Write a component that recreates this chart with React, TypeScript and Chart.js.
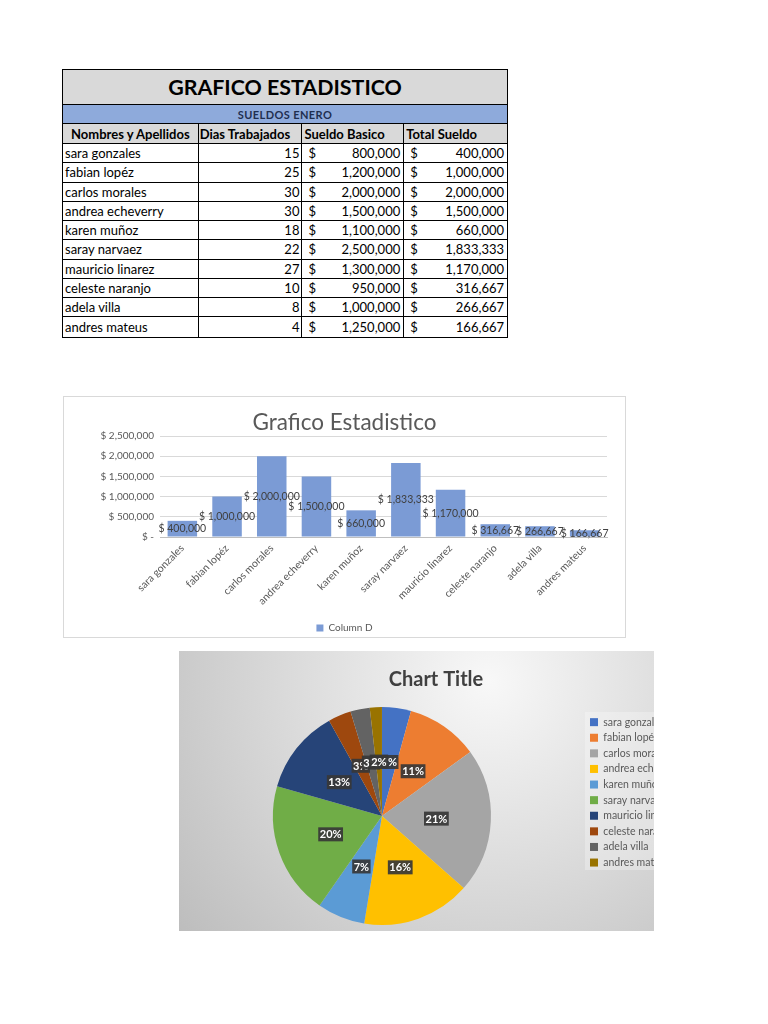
import React, { useEffect, useRef } from 'react';
import { Chart, registerables } from 'chart.js';

Chart.register(...registerables);

const FONT = 'Lato, "Open Sans", sans-serif';
Chart.defaults.font.family = FONT;

// ---------- data ----------
const tableTitle = 'GRAFICO ESTADISTICO';
const tableSubtitle = 'SUELDOS ENERO';
const headers = ['Nombres y Apellidos', 'Dias Trabajados', 'Sueldo Basico', 'Total Sueldo'];
const names = [
  'sara gonzales',
  'fabian lopéz',
  'carlos morales',
  'andrea echeverry',
  'karen muñoz',
  'saray narvaez',
  'mauricio linarez',
  'celeste naranjo',
  'adela villa',
  'andres mateus',
];
const diasTrabajados = [15, 25, 30, 30, 18, 22, 27, 10, 8, 4];
const sueldoBasico = [800000, 1200000, 2000000, 1500000, 1100000, 2500000, 1300000, 950000, 1000000, 1250000];
const totalSueldo = [400000, 1000000, 2000000, 1500000, 660000, 1833333, 1170000, 316667, 266667, 166667];

const barTitle = 'Grafico Estadistico';
const barSeriesName = 'Column D';
const yMin = 0;
const yMax = 2500000;
const yStep = 500000;

const pieTitle = 'Chart Title';
const pieColors = ['#4472C4', '#ED7D31', '#A5A5A5', '#FFC000', '#5B9BD5', '#70AD47', '#264478', '#9E480E', '#636363', '#997300'];
const barColor = '#7b9bd5';

function fmtMoney(v: number): string {
  if (v === 0) return '$ -';
  return '$ ' + Math.round(v).toLocaleString('en-US');
}

// ---------- bar chart ----------
function BarChart() {
  const ref = useRef<HTMLCanvasElement>(null);
  useEffect(() => {
    const labelPlugin = {
      id: 'barValueLabels',
      afterDatasetsDraw(chart: any) {
        const ctx = chart.ctx;
        const meta = chart.getDatasetMeta(0);
        ctx.save();
        ctx.font = `10.5px ${FONT}`;
        ctx.fillStyle = '#404040';
        ctx.textAlign = 'center';
        ctx.textBaseline = 'middle';
        meta.data.forEach((el: any, i: number) => {
          const p = el.getProps(['x', 'y', 'base'], true);
          ctx.fillText(fmtMoney(totalSueldo[i]), p.x, (p.y + p.base) / 2);
        });
        ctx.restore();
      },
    };
    const chart = new Chart(ref.current as HTMLCanvasElement, {
      type: 'bar',
      data: {
        labels: names,
        datasets: [
          {
            label: barSeriesName,
            data: totalSueldo,
            backgroundColor: barColor,
            barPercentage: 0.66,
            categoryPercentage: 1,
          },
        ],
      },
      options: {
        animation: false,
        responsive: false,
        maintainAspectRatio: false,
        layout: { padding: { left: 18, right: 18, top: 0, bottom: -6 } },
        plugins: {
          title: {
            display: true,
            text: barTitle,
            color: '#595959',
            font: { family: FONT, size: 22.5, weight: 'normal' },
            padding: { top: 12, bottom: 0 },
          },
          legend: {
            position: 'bottom',
            labels: { boxWidth: 7, boxHeight: 7, color: '#595959', font: { size: 10 }, padding: 10 },
          },
          tooltip: { enabled: false },
        },
        scales: {
          x: {
            grid: { display: false, drawTicks: false },
            border: { color: '#bfbfbf' },
            ticks: { color: '#595959', font: { size: 10.5 }, maxRotation: 45, minRotation: 45, padding: 5, autoSkip: false },
            afterFit(s: any) {
              s.height = 76;
            },
          },
          y: {
            min: yMin,
            max: yMax,
            ticks: { stepSize: yStep, color: '#595959', font: { size: 10 }, padding: 6, callback: (v: any) => fmtMoney(Number(v)) },
            grid: { color: '#d9d9d9', drawTicks: false },
            border: { display: false },
            afterFit(s: any) {
              s.width = 78;
            },
          },
        },
      } as any,
      plugins: [labelPlugin],
    });
    return () => chart.destroy();
  }, []);
  return <canvas ref={ref} width={561} height={240} style={{ display: 'block' }} />;
}

// ---------- pie chart ----------
function PieChart() {
  const ref = useRef<HTMLCanvasElement>(null);
  useEffect(() => {
    const bgPlugin = {
      id: 'pieBackground',
      beforeDraw(chart: any) {
        const { ctx, width, height } = chart;
        ctx.save();
        const g = ctx.createRadialGradient(310, 30, 0, 310, 30, 420);
        g.addColorStop(0, '#f8f8f8');
        g.addColorStop(1, '#bababa');
        ctx.fillStyle = g;
        ctx.fillRect(0, 0, width, height);
        const lg = chart.legend;
        if (lg) {
          ctx.fillStyle = 'rgba(255,255,255,0.28)';
          ctx.fillRect(lg.left, lg.top + 5, lg.width, 10 * 15.4 + 4);
        }
        ctx.restore();
      },
    };
    const pctPlugin = {
      id: 'piePercentLabels',
      afterDatasetsDraw(chart: any) {
        const ctx = chart.ctx;
        const meta = chart.getDatasetMeta(0);
        const total = totalSueldo.reduce((a, b) => a + b, 0);
        ctx.save();
        ctx.font = `bold 11px ${FONT}`;
        ctx.textAlign = 'center';
        ctx.textBaseline = 'middle';
        meta.data.forEach((el: any, i: number) => {
          const pos = el.tooltipPosition(true);
          const txt = Math.round((totalSueldo[i] / total) * 100) + '%';
          const w = ctx.measureText(txt).width + 3;
          ctx.fillStyle = 'rgba(55,55,55,0.92)';
          ctx.fillRect(pos.x - w / 2, pos.y - 7, w, 14);
          ctx.fillStyle = '#ffffff';
          ctx.fillText(txt, pos.x, pos.y + 0.5);
        });
        ctx.restore();
      },
    };
    const chart = new Chart(ref.current as HTMLCanvasElement, {
      type: 'pie',
      data: {
        labels: names,
        datasets: [
          {
            data: totalSueldo,
            backgroundColor: pieColors,
            borderWidth: 0,
          },
        ],
      },
      options: {
        animation: false,
        responsive: false,
        maintainAspectRatio: false,
        layout: { padding: { top: 0, bottom: 6, left: 0, right: 0 } },
        plugins: {
          title: {
            display: true,
            text: pieTitle,
            color: '#404040',
            font: { family: FONT, size: 20, weight: 'bold' },
            padding: { top: 17, bottom: 15 },
          },
          legend: {
            position: 'right',
            align: 'start',
            fullSize: false,
            title: { display: true, text: ' ', font: { size: 4 }, padding: 0 },
            labels: { boxWidth: 8, boxHeight: 8, color: '#595959', font: { size: 10.5 }, padding: 5.1 },
          },
          tooltip: { enabled: false },
        },
      } as any,
      plugins: [bgPlugin, pctPlugin],
    });
    return () => chart.destroy();
  }, []);
  return <canvas ref={ref} width={514} height={280} style={{ display: 'block' }} />;
}

// ---------- table ----------
const colW = [136, 104, 102, 103];
const B = '1px solid #000';

function Cell(props: { w: number; last?: boolean; style?: any; children?: any }) {
  return (
    <div
      style={{
        width: props.w,
        boxSizing: 'border-box',
        borderRight: props.last ? 'none' : B,
        height: '100%',
        display: 'flex',
        alignItems: 'center',
        overflow: 'hidden',
        whiteSpace: 'nowrap',
        ...(props.style || {}),
      }}
    >
      {props.children}
    </div>
  );
}

function MoneyCell(props: { w: number; v: number; last?: boolean }) {
  return (
    <Cell w={props.w} last={props.last} style={{ justifyContent: 'space-between', padding: '0 3px 0 6px' }}>
      <span>$</span>
      <span>{props.v.toLocaleString('en-US')}</span>
    </Cell>
  );
}

function DataTable() {
  const rowH = 19.25;
  return (
    <div
      style={{
        position: 'absolute',
        left: 62,
        top: 69,
        width: 446,
        border: B,
        boxSizing: 'border-box',
        color: '#000',
        fontSize: 13,
      }}
    >
      <div
        style={{
          height: 35,
          boxSizing: 'border-box',
          borderBottom: B,
          background: '#d9d9d9',
          display: 'flex',
          alignItems: 'center',
          justifyContent: 'center',
          fontWeight: 'bold',
          fontSize: 21.4,
        }}
      >
        {tableTitle}
      </div>
      <div
        style={{
          height: 19,
          boxSizing: 'border-box',
          borderBottom: B,
          background: '#8eaadb',
          display: 'flex',
          alignItems: 'center',
          justifyContent: 'center',
          fontWeight: 'bold',
          fontSize: 11,
          color: '#1f2f50',
          letterSpacing: 0.4,
        }}
      >
        {tableSubtitle}
      </div>
      <div style={{ height: 20, boxSizing: 'border-box', borderBottom: B, background: '#d9d9d9', display: 'flex', fontWeight: 'bold' }}>
        <Cell w={colW[0]} style={{ justifyContent: 'center' }}>{headers[0]}</Cell>
        <Cell w={colW[1]} style={{ paddingLeft: 1 }}>{headers[1]}</Cell>
        <Cell w={colW[2]} style={{ paddingLeft: 2 }}>{headers[2]}</Cell>
        <Cell w={colW[3]} last style={{ paddingLeft: 2 }}>{headers[3]}</Cell>
      </div>
      {names.map((n, i) => (
        <div
          key={n}
          style={{
            height: rowH,
            boxSizing: 'border-box',
            borderBottom: i === names.length - 1 ? 'none' : B,
            display: 'flex',
          }}
        >
          <Cell w={colW[0]} style={{ paddingLeft: 2 }}>{n}</Cell>
          <Cell w={colW[1]} style={{ justifyContent: 'flex-end', paddingRight: 2 }}>{diasTrabajados[i]}</Cell>
          <MoneyCell w={colW[2]} v={sueldoBasico[i]} />
          <MoneyCell w={colW[3]} v={totalSueldo[i]} last />
        </div>
      ))}
    </div>
  );
}

export default function App() {
  return (
    <div style={{ position: 'absolute', left: 0, top: 0, width: 768, height: 1024, background: '#fff', fontFamily: FONT }}>
      <DataTable />
      <div
        style={{
          position: 'absolute',
          left: 63,
          top: 396,
          width: 563,
          height: 242,
          border: '1px solid #d9d9d9',
          boxSizing: 'border-box',
          background: '#fff',
        }}
      >
        <BarChart />
      </div>
      <div
        style={{
          position: 'absolute',
          left: 179,
          top: 651,
          width: 475,
          height: 280,
          overflow: 'hidden',
        }}
      >
        <PieChart />
      </div>
    </div>
  );
}
